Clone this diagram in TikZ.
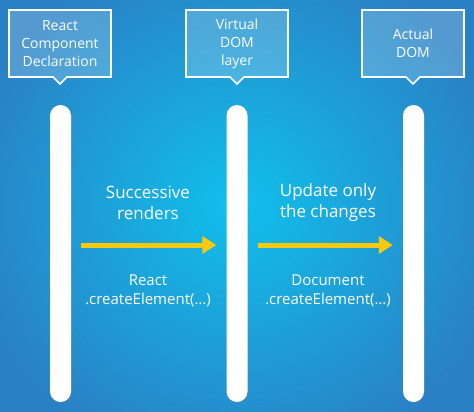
\documentclass[tikz,border=0pt]{standalone}
\usepackage{fontspec}
\setmainfont{Open Sans}
\usetikzlibrary{shapes.callouts,arrows.meta,shadows}
\definecolor{bginner}{RGB}{16,192,236}
\definecolor{bgouter}{RGB}{42,128,196}
\definecolor{arrowyellow}{RGB}{250,200,12}
\tikzset{
  callbox/.style={rectangle callout, draw=white, line width=1.6pt, fill=white, fill opacity=0.2, text opacity=1,
    minimum width=102pt, minimum height=67pt, text width=98pt, align=center, inner sep=2pt,
    callout pointer width=14pt, font=\fontsize{14}{18}\selectfont, text=white},
  bar/.style={rectangle, fill=white, rounded corners=10.5pt, minimum width=21pt, minimum height=297pt, inner sep=0pt,
    drop shadow={opacity=0.25, shadow xshift=1.2pt, shadow yshift=-1.2pt}},
  bigtext/.style={align=center, text=white, font=\fontsize{17}{21}\selectfont},
  smalltext/.style={align=center, text=white, font=\fontsize{15}{19}\selectfont},
  yarrow/.style={draw=arrowyellow, line width=5pt, -{Triangle[length=14pt,width=17pt]}}
}
\begin{document}
\begin{tikzpicture}[x=1pt,y=-1pt]
\useasboundingbox (0,0) rectangle (474,412);
\shade[inner color=bginner, outer color=bgouter] (-40,-60) rectangle (514,472);
% bars
\node[bar] (b1) at (60.5,253.5) {};
\node[bar] (b2) at (237,253.5) {};
\node[bar] (b3) at (413.5,253.5) {};
% header callouts
\node[callbox, callout absolute pointer={(60,84)}] (h1) at (60,43.5) {React\\Component\\Declaration};
\node[callbox, callout absolute pointer={(237,84)}] (h2) at (237,43.5) {Virtual\\DOM\\layer};
\node[callbox, callout absolute pointer={(413,84)}] (h3) at (413,43.5) {Actual\\DOM};
% arrows
\draw[yarrow, shorten <=10pt, shorten >=10pt] ([yshift=8.5pt]b1.east) -- ([yshift=8.5pt]b2.west);
\draw[yarrow, shorten <=10pt, shorten >=10pt] ([yshift=8.5pt]b2.east) -- ([yshift=8.5pt]b3.west);
% labels
\node[bigtext] (t1) at (148,202.5) {Successive\\renders};
\node[bigtext] (t2) at (328,202.5) {Update only\\the changes};
\node[smalltext] (s1) at (148,290.5) {React\\.createElement(…)};
\node[smalltext] (s2) at (328,290.5) {Document\\.createElement(…)};
\end{tikzpicture}
\end{document}
